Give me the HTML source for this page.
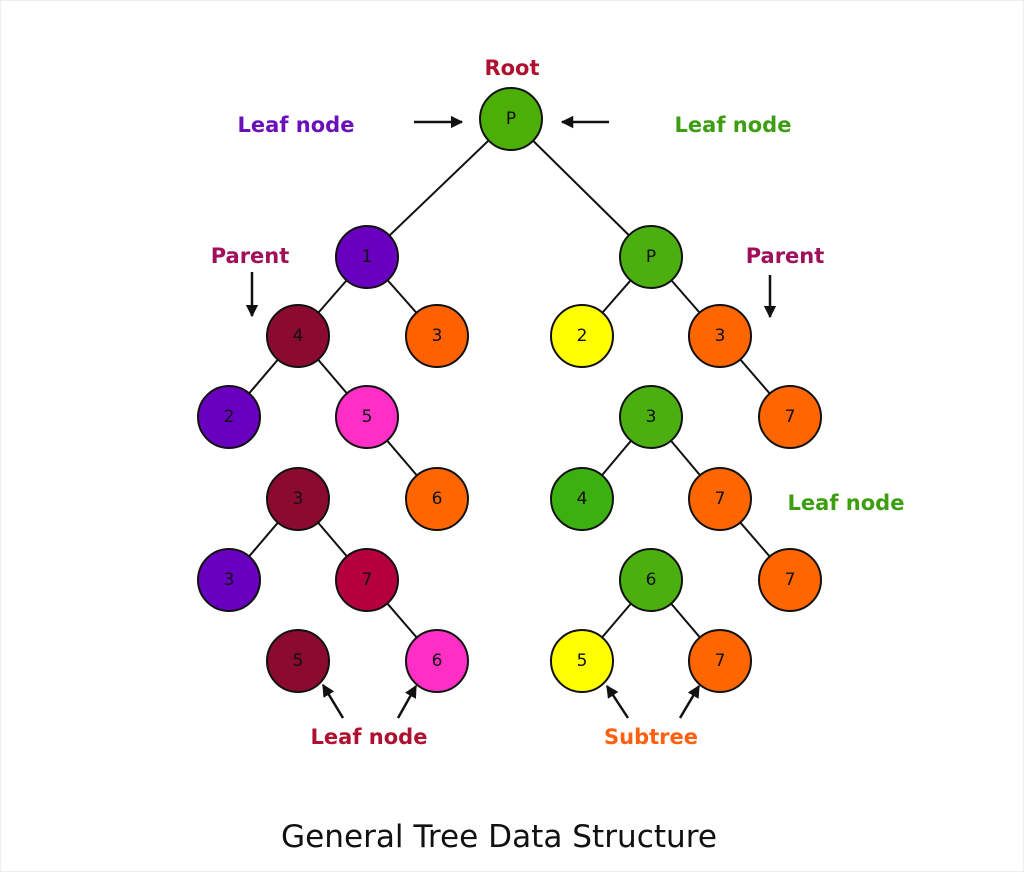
<!DOCTYPE html>
<html><head><style>
html,body{margin:0;padding:0;background:#fff;}
svg{display:block;}
text{font-family:"DejaVu Sans","Liberation Sans",sans-serif;}
.n{stroke:#111;stroke-width:2;}
.t{font-size:17px;fill:#111;text-anchor:middle;dominant-baseline:central;}
.l{font-size:21px;font-weight:bold;text-anchor:middle;dominant-baseline:central;}
</style></head><body>
<svg width="1024" height="872" viewBox="0 0 1024 872">
<defs><marker id="a" viewBox="0 0 10 10" refX="9" refY="5" markerWidth="5" markerHeight="5" orient="auto"><path d="M0,0L10,5L0,10z" fill="#111"/></marker></defs>
<rect x="0.5" y="0.5" width="1023" height="871" fill="#fff" stroke="#eee"/>
<g stroke="#111" stroke-width="2">
<line x1="511" y1="119" x2="367" y2="257"/><line x1="511" y1="119" x2="651" y2="257"/>
<line x1="367" y1="257" x2="298" y2="336"/><line x1="367" y1="257" x2="437" y2="336"/>
<line x1="651" y1="257" x2="582" y2="336"/><line x1="651" y1="257" x2="720" y2="336"/>
<line x1="298" y1="336" x2="229" y2="417"/><line x1="298" y1="336" x2="367" y2="417"/>
<line x1="367" y1="417" x2="437" y2="499"/><line x1="720" y1="336" x2="790" y2="417"/>
<line x1="651" y1="417" x2="582" y2="499"/><line x1="651" y1="417" x2="720" y2="499"/>
<line x1="720" y1="499" x2="790" y2="580"/>
<line x1="298" y1="499" x2="229" y2="580"/><line x1="298" y1="499" x2="367" y2="580"/>
<line x1="367" y1="580" x2="437" y2="661"/>
<line x1="651" y1="580" x2="582" y2="661"/><line x1="651" y1="580" x2="720" y2="661"/>
</g>
<g>
<circle class="n" cx="511" cy="119" r="31" fill="#4caf08"/><text class="t" x="511" y="119">P</text>
<circle class="n" cx="367" cy="257" r="31" fill="#6a00bf"/><text class="t" x="367" y="257">1</text>
<circle class="n" cx="651" cy="257" r="31" fill="#4caf10"/><text class="t" x="651" y="257">P</text>
<circle class="n" cx="298" cy="336" r="31" fill="#8b0a30"/><text class="t" x="298" y="336">4</text>
<circle class="n" cx="437" cy="336" r="31" fill="#ff6000"/><text class="t" x="437" y="336">3</text>
<circle class="n" cx="582" cy="336" r="31" fill="#ffff00"/><text class="t" x="582" y="336">2</text>
<circle class="n" cx="720" cy="336" r="31" fill="#ff6600"/><text class="t" x="720" y="336">3</text>
<circle class="n" cx="229" cy="417" r="31" fill="#6a00bf"/><text class="t" x="229" y="417">2</text>
<circle class="n" cx="367" cy="417" r="31" fill="#ff2ec4"/><text class="t" x="367" y="417">5</text>
<circle class="n" cx="651" cy="417" r="31" fill="#4caf10"/><text class="t" x="651" y="417">3</text>
<circle class="n" cx="790" cy="417" r="31" fill="#ff6600"/><text class="t" x="790" y="417">7</text>
<circle class="n" cx="437" cy="499" r="31" fill="#ff6600"/><text class="t" x="437" y="499">6</text>
<circle class="n" cx="298" cy="499" r="31" fill="#8b0a30"/><text class="t" x="298" y="499">3</text>
<circle class="n" cx="582" cy="499" r="31" fill="#3cb010"/><text class="t" x="582" y="499">4</text>
<circle class="n" cx="720" cy="499" r="31" fill="#ff6600"/><text class="t" x="720" y="499">7</text>
<circle class="n" cx="229" cy="580" r="31" fill="#6a00bf"/><text class="t" x="229" y="580">3</text>
<circle class="n" cx="367" cy="580" r="31" fill="#b5003e"/><text class="t" x="367" y="580">7</text>
<circle class="n" cx="651" cy="580" r="31" fill="#4caf10"/><text class="t" x="651" y="580">6</text>
<circle class="n" cx="790" cy="580" r="31" fill="#ff6600"/><text class="t" x="790" y="580">7</text>
<circle class="n" cx="298" cy="661" r="31" fill="#8b0a30"/><text class="t" x="298" y="661">5</text>
<circle class="n" cx="437" cy="661" r="31" fill="#ff2ec4"/><text class="t" x="437" y="661">6</text>
<circle class="n" cx="582" cy="661" r="31" fill="#ffff00"/><text class="t" x="582" y="661">5</text>
<circle class="n" cx="720" cy="661" r="31" fill="#ff6600"/><text class="t" x="720" y="661">7</text>
</g>
<g stroke="#111" stroke-width="2.5" marker-end="url(#a)">
<line x1="414" y1="122" x2="462" y2="122"/><line x1="609" y1="122" x2="562" y2="122"/>
<line x1="252" y1="272" x2="252" y2="316"/><line x1="770" y1="275" x2="770" y2="317"/>
<line x1="343" y1="718" x2="323" y2="685"/><line x1="398" y1="718" x2="416" y2="686"/>
<line x1="628" y1="718" x2="607" y2="686"/><line x1="680" y1="718" x2="699" y2="686"/>
</g>
<text class="l" x="512" y="68" fill="#b01030">Root</text>
<text class="l" x="296" y="125" fill="#6a10b8">Leaf node</text>
<text class="l" x="733" y="125" fill="#3c9e10">Leaf node</text>
<text class="l" x="250" y="256" fill="#a0105a">Parent</text>
<text class="l" x="785" y="256" fill="#a0105a">Parent</text>
<text class="l" x="846" y="503" fill="#3c9e10">Leaf node</text>
<text class="l" x="369" y="737" fill="#b01030">Leaf node</text>
<text class="l" x="651" y="737" fill="#ff6010">Subtree</text>
<text x="499" y="837" font-size="31" fill="#111" text-anchor="middle" dominant-baseline="central" textLength="436" lengthAdjust="spacingAndGlyphs">General Tree Data Structure</text>
</svg>
</body></html>
